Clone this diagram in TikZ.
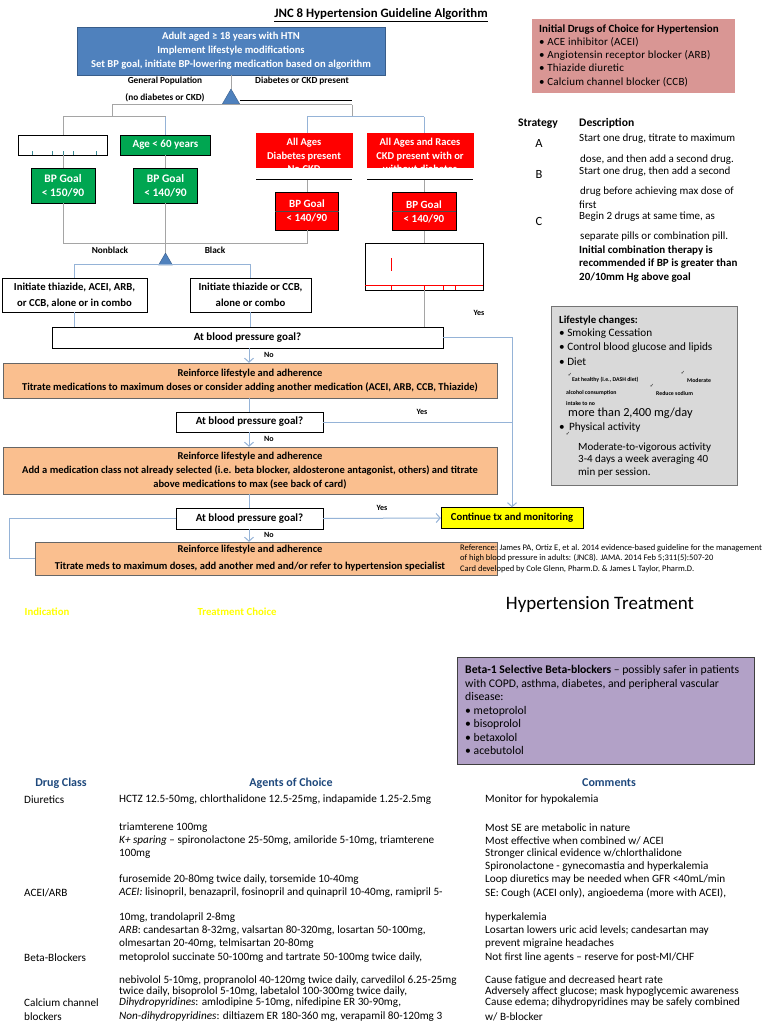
\documentclass[tikz,border=0pt]{standalone}
\usepackage{fontspec}
\setmainfont{Carlito}
\newfontfamily\djv{DejaVu Sans}
\newfontfamily\spaced[LetterSpace=2]{Carlito}
\usetikzlibrary{shapes.geometric,arrows.meta}
\definecolor{hblue}{RGB}{79,129,189}
\definecolor{hblueb}{RGB}{56,93,138}
\definecolor{hgreen}{RGB}{0,166,81}
\definecolor{hred}{RGB}{255,0,0}
\definecolor{horange}{RGB}{250,191,143}
\definecolor{hyellow}{RGB}{255,255,0}
\definecolor{hpink}{RGB}{217,150,148}
\definecolor{hgray}{RGB}{217,217,217}
\definecolor{hpurple}{RGB}{178,161,199}
\definecolor{lineblue}{RGB}{149,179,215}
\definecolor{linegray}{RGB}{165,165,165}
\definecolor{hdrblue}{RGB}{31,73,125}
\definecolor{tickteal}{RGB}{60,140,150}
\newcommand\fsz[2]{\fontsize{#1}{#2}\selectfont}
\begin{document}
\begin{tikzpicture}[x=1pt,y=-1pt,
 bx/.style={draw=black, rectangle, inner sep=0pt, align=center, font=\fsz{10.8}{14}\bfseries},
 gl/.style={draw=linegray, line width=1pt},
 bl/.style={draw=lineblue, line width=1pt},
 arr/.style={bl, -{Straight Barb[length=4pt,width=9pt]}},
 lbl/.style={inner sep=0pt, font=\fsz{9.3}{11}\bfseries},
 yn/.style={inner sep=0pt, font=\fsz{8}{10}\bfseries},
 txt/.style={inner sep=0pt, anchor=west},
 tb/.style={inner sep=0pt, anchor=west, font=\fsz{11.2}{12}},
 th/.style={inner sep=0pt, font=\fsz{12}{14}\bfseries, text=hdrblue},
 tri/.style={regular polygon, regular polygon sides=3, fill=hblue, draw=hblueb, inner sep=0pt},
 tiny/.style={inner sep=0pt, anchor=west, font=\fsz{5.8}{6}\bfseries},
 chk/.style={inner sep=0pt, font=\djv\fsz{5}{6}}]
\useasboundingbox[fill=white] (0,0) rectangle (768,1024);

% ---------------- title
\node[inner sep=0pt, font=\fsz{12.8}{14}\bfseries] (title) at (381,15) {\underline{JNC 8 Hypertension Guideline Algorithm}};

% ---------------- start box
\node[bx, fill=hblue, draw=hblueb, text=white, minimum width=308pt, minimum height=48pt, font=\fsz{10.6}{14}\bfseries] (start) at (231,51)
 {Adult aged ≥ 18 years with HTN\\Implement lifestyle modifications\\Set BP goal, initiate BP-lowering medication based on algorithm};
\node[lbl] (genpop) at (165,81) {General Population};
\node[lbl] (nodiab) at (165,98) {(no diabetes or CKD)};
\node[lbl] (diabckd) at (302,81) {Diabetes or CKD present};
\node[tri, minimum size=20pt] (tri1) at (231,99) {};

% ---------------- row 1 boxes
\node[bx, fill=white, minimum width=89pt, minimum height=20pt] (emptyL) at (63,145) {};
\foreach \tx in {32,52,63,73,96} {\draw[tickteal, line width=0.8pt] (\tx,155) -- (\tx,151.5);}
\node[bx, fill=hgreen, text=white, minimum width=90pt, minimum height=20pt, font=\fsz{11}{14}\bfseries] (age) at (165.5,145) {Age < 60 years};
\node[bx, fill=hgreen, text=white, minimum width=64pt, minimum height=35pt, font=\fsz{11.5}{14}\bfseries] (bp1) at (63,185.5) {BP Goal\\< 150/90};
\node[bx, fill=hgreen, text=white, minimum width=64pt, minimum height=35pt, font=\fsz{11.5}{14}\bfseries] (bp2) at (165.5,185.5) {BP Goal\\< 140/90};

\node[bx, fill=hred, draw=hred, minimum width=96pt, minimum height=34pt] (red1) at (304,150) {};
\begin{scope}
 \clip (red1.south west) rectangle (red1.north east);
 \node[inner sep=0pt, align=center, text=white, font=\fsz{10.5}{13.5}\bfseries] (red1t) at (304,155.5) {All Ages\\Diabetes present\\No CKD};
\end{scope}
\node[bx, fill=hred, draw=hred, minimum width=106pt, minimum height=34pt] (red2) at (420,150) {};
\begin{scope}
 \clip (red2.south west) rectangle (red2.north east);
 \node[inner sep=0pt, align=center, text=white, font=\fsz{10.5}{13.5}\bfseries] (red2t) at (420,155.5) {All Ages and Races\\CKD present with or\\without diabetes};
\end{scope}
\coordinate (u1a) at (256,180); \coordinate (u1b) at (352,180);
\coordinate (u2a) at (367,180); \coordinate (u2b) at (473,180);
\draw[line width=1pt] (u1a) -- (u1b);
\draw[line width=1pt] (u2a) -- (u2b);

\node[bx, fill=hred, text=white, minimum width=63pt, minimum height=38pt, font=\fsz{11}{14}\bfseries] (bpr1) at (307,211) {BP Goal\\< 140/90};
\node[bx, fill=hred, text=white, minimum width=64pt, minimum height=38pt, font=\fsz{11}{14}\bfseries] (bpr2) at (424,211.5) {BP Goal\\< 140/90};
\draw[black!70, line width=0.8pt] (bpr1.west) -- (bpr1.east);
\draw[black!70, line width=0.8pt] (bpr2.west) -- (bpr2.east);

% ---------------- tree connectors (top)
\coordinate (jL) at (112,105); \coordinate (jR) at (352,105);
\coordinate (kL) at (112,117); \coordinate (kR) at (352,117);
\coordinate (bL1) at (63,117); \coordinate (bL2) at (165.5,117);
\coordinate (bR1) at (307,117); \coordinate (bR2) at (424,117);
\draw[gl] (start.south) -- (tri1.corner 1);
\draw[line width=1pt] (tri1.corner 3 |- 0,100.5) -- (352,100.5);
\draw[gl] (jL) -- (jR);
\draw[gl] (jL) -- (kL);
\draw[gl] (jR) -- (kR);
\draw[gl] (bL1) -- (bL2);
\draw[bl] (bR1) -- (bR2);
\draw[gl] (bL1) -- (emptyL.north);
\draw[bl] (bL2) -- (age.north);
\draw[bl] (bR1) -- (bR1 |- red1.north);
\draw[bl] (bR2) -- (bR2 |- red2.north);
\draw[gl] (emptyL.south) -- (bp1.north);
\draw[gl] (age.south) -- (bp2.north);
\draw[gl] (u1a -| bpr1.north) -- (bpr1.north);
\draw[gl] (u2a -| bpr2.north) -- (bpr2.north);

% ---------------- second junction
\coordinate (hz) at (0,243);
\draw[gl] (bp1.south) -- (bp1.south |- hz) -- (bpr1.south |- hz) -- (bpr1.south);
\node[lbl] (nonblack) at (110,250) {Nonblack};
\node[lbl] (black) at (215,250) {Black};
\node[tri, minimum size=16pt] (tri2) at (165.5,261) {};
\draw[gl] (bp2.south) -- (tri2.corner 1);

\node[bx, fill=white, minimum width=118pt, minimum height=47pt] (rightE) at (424,266.5) {};
\draw[hred, line width=0.9pt] (rightE.west |- 0,285) -- (rightE.east |- 0,285);
\foreach \tx in {391,424,443,455} {\draw[hred, line width=0.8pt] (\tx,285) -- (\tx,290);}
\draw[hred, line width=0.9pt] (391,258) -- (391,271);
\draw[gl] (bpr2.south) -- (rightE.north);

\node[bx, fill=white, minimum width=145pt, minimum height=34pt, font=\fsz{10.7}{16}\bfseries] (init1) at (74.5,295) {Initiate thiazide, ACEI, ARB,\\or CCB, alone or in combo};
\node[bx, fill=white, minimum width=121pt, minimum height=34pt, font=\fsz{10.7}{16}\bfseries] (init2) at (250.5,295) {Initiate thiazide or CCB,\\alone or combo};
\coordinate (h2) at (0,264);
\draw[bl] (init1.north |- h2) -- (init2.north |- h2);
\draw[bl] (init1.north |- h2) -- (init1.north);
\draw[bl] (init2.north |- h2) -- (init2.north);

% ---------------- main flow
\node[bx, fill=white, minimum width=391pt, minimum height=21pt, font=\fsz{11}{14}\bfseries] (goal1) at (247.5,337.5) {At blood pressure goal?};
\draw[bl] (init1.south) -- (init1.south |- goal1.north);
\draw[bl] (init2.south) -- (init2.south |- goal1.north);
\draw[gl] (rightE.south) -- (rightE.south |- goal1.north);
\node[yn] (yes1) at (479,313) {Yes};

\coordinate (cx) at (249,0);
\coordinate (vx) at (512,0);
\node[bx, fill=horange, draw=black!60, minimum width=494pt, minimum height=35pt, font=\fsz{10.5}{14}\bfseries] (orange1) at (250,380.5)
 {Reinforce lifestyle and adherence\\Titrate medications to maximum doses or consider adding another medication (ACEI, ARB, CCB, Thiazide)};
\draw[arr] (goal1.south -| cx) -- (orange1.north -| cx);
\node[yn] (no1) at (269,355) {No};

\node[bx, fill=white, minimum width=147pt, minimum height=20pt, font=\fsz{11}{14}\bfseries] (goal2) at (249.5,422) {At blood pressure goal?};
\draw[bl] (orange1.south -| cx) -- (goal2.north -| cx);
\node[yn] (yes2) at (422,412) {Yes};
\node[yn] (no2) at (269,439) {No};

\node[bx, fill=horange, draw=black!60, minimum width=494pt, minimum height=47pt, font=\fsz{10.5}{14}\bfseries] (orange2) at (250,470.5)
 {Reinforce lifestyle and adherence\\Add a medication class not already selected (i.e. beta blocker, aldosterone antagonist, others) and titrate\\above medications to max (see back of card)};
\draw[arr] (goal2.south -| cx) -- (orange2.north -| cx);

\node[bx, fill=white, minimum width=147pt, minimum height=21pt, font=\fsz{11}{14}\bfseries] (goal3) at (249.5,518.5) {At blood pressure goal?};
\draw[bl] (orange2.south -| cx) -- (goal3.north -| cx);
\node[bx, fill=hyellow, minimum width=142pt, minimum height=21pt, font=\fsz{10.7}{14}\bfseries] (yellow) at (512,518) {Continue tx and monitoring};
\draw[arr] (goal3.east) -- (yellow.west);
\node[yn] (yes3) at (382,508) {Yes};
\draw[arr] (goal1.east) -| (yellow.north);
\draw[bl] (goal2.east) -- (goal2.east -| vx);

\node[bx, fill=horange, draw=black!60, minimum width=462pt, minimum height=33pt] (orange3) at (266,558.5) {};
\node[inner sep=0pt, align=center, font=\fsz{10.5}{17}\bfseries] (o3t) at (250,558.5)
 {Reinforce lifestyle and adherence\\Titrate meds to maximum doses, add another med and/or refer to hypertension specialist};
\draw[arr] (goal3.south -| cx) -- (orange3.north -| cx);
\node[yn] (no3) at (269,535) {No};
\draw[bl] (goal3.west) -- ++(-166,0) |- (orange3.west);

\node[txt, align=left, font=\fsz{8.5}{10.5}] (ref) at (460,558.5)
 {Reference: James PA, Ortiz E, et al. 2014 evidence-based guideline for the management\\of high blood pressure in adults: (JNC8). JAMA. 2014 Feb 5;311(5):507-20\\Card developed by Cole Glenn, Pharm.D. \& James L Taylor, Pharm.D.};

% ---------------- right column
\node[fill=hpink, minimum width=203pt, minimum height=74pt, inner sep=0pt] (pink) at (633.5,56) {};
\node[txt, align=left, font=\fsz{11}{13.3}] (pinkt) at (539,55.5)
 {\textbf{Initial Drugs of Choice for Hypertension}\\{\spaced • ACE inhibitor (ACEI)}\\{\spaced • Angiotensin receptor blocker (ARB)}\\{\spaced • Thiazide diuretic}\\{\spaced • Calcium channel blocker (CCB)}};

\node[inner sep=0pt, font=\fsz{11.6}{13}\bfseries] (strat) at (538,124) {Strategy};
\node[txt, font=\fsz{11.6}{13}\bfseries] (descr) at (579,123) {Description};
\node[inner sep=0pt, font=\fsz{12.5}{14}] (sA) at (539,143) {A};
\node[inner sep=0pt, font=\fsz{12.5}{14}] (sB) at (539,174) {B};
\node[inner sep=0pt, font=\fsz{12.5}{14}] (sC) at (539,221) {C};
\node[txt, font=\fsz{11}{12}] (dA1) at (579,139) {Start one drug, titrate to maximum};
\node[txt, font=\fsz{11}{12}] (dA2) at (580,160) {dose, and then add a second drug.};
\node[txt, font=\fsz{11}{12}] (dB1) at (579,172) {Start one drug, then add a second};
\node[txt, font=\fsz{11}{12}] (dB2) at (580,192) {drug before achieving max dose of};
\node[txt, font=\fsz{11}{12}] (dB3) at (579,205) {first};
\node[txt, font=\fsz{11}{12}] (dC1) at (579,217) {Begin 2 drugs at same time, as};
\node[txt, font=\fsz{11}{12}] (dC2) at (580,237) {separate pills or combination pill.};
\node[txt, align=left, font=\fsz{11}{13.3}\bfseries] (dC3) at (579,264) {Initial combination therapy is\\recommended if BP is greater than\\20/10mm Hg above goal};

\node[draw=black!55, fill=hgray, line width=1pt, minimum width=186pt, minimum height=179pt, inner sep=0pt] (life) at (644,395.5) {};
\node[txt, font=\fsz{10.8}{12}\bfseries] (l0) at (559,321) {Lifestyle changes:};
\node[txt, font=\fsz{11.2}{12}] (l1) at (559,334) {• Smoking Cessation};
\node[txt, font=\fsz{11.2}{12}] (l2) at (559,348) {• Control blood glucose and lipids};
\node[txt, font=\fsz{11.2}{12}] (l3) at (559,362) {• Diet};
\node[chk] (c1) at (570,375) {✓};
\node[tiny] (l4a) at (572,380) {Eat healthy (i.e., DASH diet)};
\node[chk] (c2) at (683,373) {✓};
\node[tiny] (l4b) at (687,380) {Moderate};
\node[tiny] (l5a) at (566,393) {alcohol consumption};
\node[chk] (c3) at (652,386) {✓};
\node[tiny] (l5b) at (656,393) {Reduce sodium};
\node[tiny] (l6) at (566,403) {intake to no};
\node[txt, font=\fsz{12.3}{13}] (l7) at (568,413) {more than 2,400 mg/day};
\node[txt, font=\fsz{11.2}{12}] (l8) at (559,428) {•\ \,Physical activity};
\node[chk] (c4) at (568,434) {✓};
\node[txt, align=left, font=\fsz{11}{12.5}] (l9) at (578,460) {Moderate-to-vigorous activity\\3-4 days a week averaging 40\\min per session.};

% ---------------- bottom half
\node[inner sep=0pt, font=\fsz{10.8}{12}\bfseries, text=hyellow] (ind) at (47,612) {Indication};
\node[inner sep=0pt, font=\fsz{10.8}{12}\bfseries, text=hyellow] (tch) at (237,612) {Treatment Choice};
\node[inner sep=0pt, font=\fsz{19}{22}] (httl) at (600,604) {Hypertension Treatment};

\node[draw=black!75, fill=hpurple, line width=1pt, minimum width=297pt, minimum height=107pt, inner sep=0pt] (purple) at (605.5,710.5) {};
\node[txt, align=left, font=\fsz{11.7}{13.5}] (purt) at (465,710)
 {\textbf{Beta-1 Selective Beta-blockers} -- possibly safer in patients\\with COPD, asthma, diabetes, and peripheral vascular\\disease:\\• metoprolol\\• bisoprolol\\• betaxolol\\• acebutolol};

\node[th] (h1) at (61,783) {Drug Class};
\node[th] (h2t) at (291,783) {Agents of Choice};
\node[th] (h3) at (609,783) {Comments};

\node[tb] (a1) at (24,800) {Diuretics};
\node[tb] (b1) at (119,800) {HCTZ 12.5-50mg, chlorthalidone 12.5-25mg, indapamide 1.25-2.5mg};
\node[tb] (c1t) at (485,800) {Monitor for hypokalemia};
\node[tb] (b2) at (119,828) {triamterene 100mg};
\node[tb] (c2t) at (485,828) {Most SE are metabolic in nature};
\node[tb] (b3) at (119,841) {\textit{K+ sparing} -- spironolactone 25-50mg, amiloride 5-10mg, triamterene};
\node[tb] (c3t) at (485,841) {Most effective when combined w/ ACEI};
\node[tb] (b4) at (119,854) {100mg};
\node[tb] (c4t) at (485,854) {Stronger clinical evidence w/chlorthalidone};
\node[tb] (c5t) at (485,867) {Spironolactone - gynecomastia and hyperkalemia};
\node[tb] (b5) at (119,880) {furosemide 20-80mg twice daily, torsemide 10-40mg};
\node[tb] (c6t) at (485,880) {Loop diuretics may be needed when GFR <40mL/min};
\node[tb] (a2) at (24,893) {ACEI/ARB};
\node[tb] (b6) at (119,893) {\textit{ACEI:} lisinopril, benazapril, fosinopril and quinapril 10-40mg, ramipril 5-};
\node[tb] (c7t) at (485,893) {SE: Cough (ACEI only), angioedema (more with ACEI),};
\node[tb] (b7) at (119,918) {10mg, trandolapril 2-8mg};
\node[tb] (c8t) at (485,918) {hyperkalemia};
\node[tb] (b8) at (119,931) {\textit{ARB}: candesartan 8-32mg, valsartan 80-320mg, losartan 50-100mg,};
\node[tb] (c9t) at (485,931) {Losartan lowers uric acid levels; candesartan may};
\node[tb] (b9) at (119,944) {olmesartan 20-40mg, telmisartan 20-80mg};
\node[tb] (c10t) at (485,944) {prevent migraine headaches};
\node[tb] (a3) at (24,958) {Beta-Blockers};
\node[tb] (b10) at (119,958) {metoprolol succinate 50-100mg and tartrate 50-100mg twice daily,};
\node[tb] (c11t) at (485,958) {Not first line agents -- reserve for post-MI/CHF};
\node[tb] (b11) at (119,981) {nebivolol 5-10mg, propranolol 40-120mg twice daily, carvedilol 6.25-25mg};
\node[tb] (c12t) at (485,981) {Cause fatigue and decreased heart rate};
\node[tb] (b12) at (119,992) {twice daily, bisoprolol 5-10mg, labetalol 100-300mg twice daily,};
\node[tb] (c13t) at (485,992) {Adversely affect glucose; mask hypoglycemic awareness};
\node[tb] (a4) at (24,1003) {Calcium channel};
\node[tb] (b13) at (119,1003) {\textit{Dihydropyridines}: amlodipine 5-10mg, nifedipine ER 30-90mg,};
\node[tb] (c14t) at (485,1003) {Cause edema; dihydropyridines may be safely combined};
\node[tb] (a5) at (24,1017) {blockers};
\node[tb] (b14) at (119,1017) {\textit{Non-dihydropyridines}: diltiazem ER 180-360 mg, verapamil 80-120mg 3};
\node[tb] (c15t) at (485,1017) {w/ B-blocker};
\end{tikzpicture}
\end{document}
